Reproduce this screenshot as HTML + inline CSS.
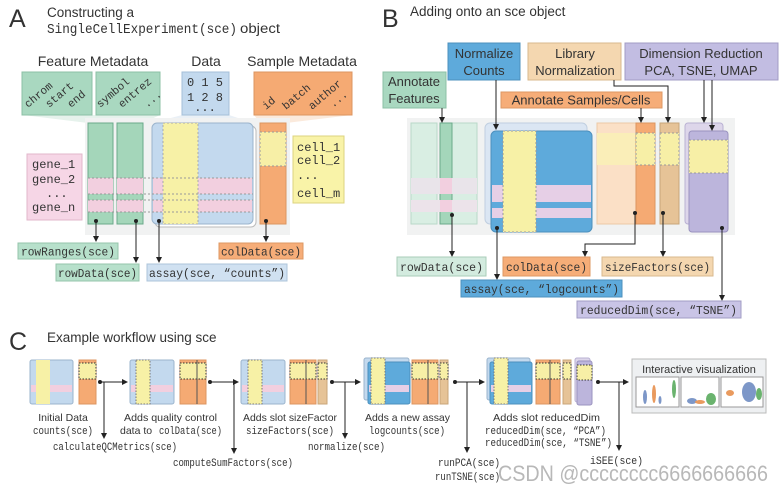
<!DOCTYPE html>
<html><head><meta charset="utf-8"><style>
html,body{margin:0;padding:0;background:#fff;}
svg{display:block;}
.s{font-family:"Liberation Sans",sans-serif;fill:#333;}
.m{font-family:"Liberation Mono",monospace;fill:#333;}
</style></head><body>
<svg width="783" height="491" viewBox="0 0 783 491" xmlns="http://www.w3.org/2000/svg">
<defs>
<marker id="ah" markerWidth="6" markerHeight="6" refX="5" refY="3" orient="auto" markerUnits="userSpaceOnUse"><path d="M0,0 L6,3 L0,6 z" fill="#222"/></marker>
</defs>
<g stroke="none">
<!-- ===== Panel A ===== -->
<text x="9" y="27" class="s" font-size="25" fill="#111">A</text>
<text x="47" y="17" class="s" font-size="13.5">Constructing a</text>
<text x="47" y="33" class="m" font-size="13.5" textLength="190" lengthAdjust="spacingAndGlyphs">SingleCellExperiment(sce)</text>
<text x="240" y="33" class="s" font-size="13.5" textLength="40" lengthAdjust="spacingAndGlyphs">object</text>

<text x="93" y="66" class="s" font-size="14" text-anchor="middle">Feature Metadata</text>
<text x="206" y="66" class="s" font-size="14" text-anchor="middle">Data</text>
<text x="302" y="66" class="s" font-size="14" text-anchor="middle">Sample Metadata</text>

<polygon points="23,115 160,115 143,123 88,123" fill="#e6f2ec"/>
<polygon points="182,115 229,115 253,123 152,123" fill="#eaf0f6"/>
<polygon points="254,115 352,115 286,123 260,123" fill="#fbeadc"/>

<rect x="22" y="72" width="70" height="43" fill="#a9d8c0" stroke="#8cc0a6"/>
<rect x="96" y="72" width="64" height="43" fill="#a9d8c0" stroke="#8cc0a6"/>
<g class="m" font-size="11">
<text transform="translate(28,108) rotate(-40)">chrom</text>
<text transform="translate(49,108) rotate(-40)">start</text>
<text transform="translate(71,108) rotate(-40)">end</text>
<text transform="translate(100,108) rotate(-40)">symbol</text>
<text transform="translate(122,108) rotate(-40)">entrez</text>
<text transform="translate(147,108) rotate(-40)">...</text>
</g>
<rect x="182" y="72" width="47" height="43" fill="#c3d9ee" stroke="#a4bfd8"/>
<text x="205" y="86" class="m" font-size="12" text-anchor="middle">0 1 5</text>
<text x="205" y="101" class="m" font-size="12" text-anchor="middle">1 2 8</text>
<text x="205" y="111" class="m" font-size="12" text-anchor="middle">...</text>
<rect x="254" y="72" width="98" height="43" fill="#f5aa73" stroke="#dc9560"/>
<g class="m" font-size="11">
<text transform="translate(266,110) rotate(-40)">id</text>
<text transform="translate(286,110) rotate(-40)">batch</text>
<text transform="translate(312,110) rotate(-40)">author</text>
<text transform="translate(333,108) rotate(-40)">...</text>
</g>

<rect x="85" y="118" width="205" height="117" fill="#f1f2f2"/>
<rect x="88" y="123" width="25" height="101" fill="#a4d6ba" stroke="#6aa98a"/>
<rect x="117" y="123" width="26" height="101" fill="#a4d6ba" stroke="#6aa98a"/>
<rect x="155" y="126" width="101" height="101" rx="5" fill="#fff" stroke="#bbb"/>
<rect x="152" y="123" width="101" height="101" rx="5" fill="#c3d9ee" stroke="#9bb4cc"/>
<rect x="88" y="178" width="25" height="16" fill="#f2cfdf"/>
<rect x="117" y="178" width="26" height="16" fill="#f2cfdf"/>
<rect x="153" y="178" width="99" height="16" fill="#f2cfdf"/>
<rect x="88" y="200" width="25" height="12" fill="#f2cfdf"/>
<rect x="117" y="200" width="26" height="12" fill="#f2cfdf"/>
<rect x="153" y="200" width="99" height="12" fill="#f2cfdf"/>
<rect x="163" y="123" width="35" height="101" fill="#f7f1a6" stroke="#aaa" stroke-dasharray="2,2"/>
<g stroke="#999" stroke-dasharray="2,2" fill="none">
<line x1="88" y1="178" x2="253" y2="178"/><line x1="88" y1="194" x2="253" y2="194"/>
<line x1="88" y1="200" x2="253" y2="200"/><line x1="88" y1="212" x2="253" y2="212"/>
</g>
<rect x="260" y="123" width="26" height="101" fill="#f5aa73" stroke="#dc9560"/>
<rect x="260" y="132" width="26" height="34" fill="#f7efa6" stroke="#999" stroke-dasharray="2,2"/>

<rect x="27" y="154" width="55" height="66" fill="#f6d6e6" stroke="#e1b7cb"/>
<g class="m" font-size="12"><text x="32" y="168">gene_1</text><text x="32" y="183">gene_2</text><text x="46" y="197">...</text><text x="32" y="211">gene_n</text></g>
<rect x="293" y="136" width="51" height="67" fill="#f9f3a8" stroke="#dcd37f"/>
<g class="m" font-size="12"><text x="297" y="151">cell_1</text><text x="297" y="164">cell_2</text><text x="297" y="179">...</text><text x="297" y="197">cell_m</text></g>

<g stroke="#222" stroke-width="1" fill="none">
<line x1="96" y1="221" x2="96" y2="241" marker-end="url(#ah)"/>
<line x1="136" y1="221" x2="136" y2="262" marker-end="url(#ah)"/>
<line x1="159" y1="221" x2="159" y2="262" marker-end="url(#ah)"/>
<line x1="266" y1="221" x2="266" y2="241" marker-end="url(#ah)"/>
</g>
<g fill="#222"><circle cx="96" cy="221" r="2"/><circle cx="136" cy="221" r="2"/><circle cx="159" cy="221" r="2"/><circle cx="266" cy="221" r="2"/></g>

<rect x="18" y="243" width="100" height="16" fill="#b7e0cb" stroke="#95c4ab"/>
<text x="21" y="255.5" class="m" font-size="12" textLength="94" lengthAdjust="spacingAndGlyphs">rowRanges(sce)</text>
<rect x="56" y="264" width="83" height="17" fill="#b7e0cb" stroke="#95c4ab"/>
<text x="58" y="277" class="m" font-size="12" textLength="79" lengthAdjust="spacingAndGlyphs">rowData(sce)</text>
<rect x="147" y="264" width="140" height="17" fill="#d0e1f1" stroke="#adc4da"/>
<text x="149" y="277" class="m" font-size="12" textLength="136" lengthAdjust="spacingAndGlyphs">assay(sce, “counts”)</text>
<rect x="219" y="243" width="84" height="16" fill="#f6ad78" stroke="#de9863"/>
<text x="221" y="255.5" class="m" font-size="12" textLength="80" lengthAdjust="spacingAndGlyphs">colData(sce)</text>

<!-- ===== Panel B ===== -->
<text x="382" y="27" class="s" font-size="25" fill="#111">B</text>
<text x="410" y="16" class="s" font-size="13.5">Adding onto an sce object</text>

<rect x="448" y="43" width="72" height="37" fill="#5eaadb" stroke="#4c90be"/>
<text x="484" y="58" class="s" font-size="13" text-anchor="middle">Normalize</text>
<text x="484" y="75" class="s" font-size="13" text-anchor="middle">Counts</text>
<rect x="528" y="43" width="93" height="37" fill="#f4d7b0" stroke="#d9b98e"/>
<text x="575" y="58" class="s" font-size="13" text-anchor="middle">Library</text>
<text x="575" y="75" class="s" font-size="13" text-anchor="middle">Normalization</text>
<rect x="625" y="43" width="153" height="37" fill="#c2bde2" stroke="#a19cc4"/>
<text x="701" y="58" class="s" font-size="13" text-anchor="middle">Dimension Reduction</text>
<text x="701" y="75" class="s" font-size="13" text-anchor="middle">PCA, TSNE, UMAP</text>
<rect x="383" y="72" width="63" height="36" fill="#a9d8c0" stroke="#8cc0a6"/>
<text x="414" y="86" class="s" font-size="13" text-anchor="middle">Annotate</text>
<text x="414" y="103" class="s" font-size="13" text-anchor="middle">Features</text>
<rect x="501" y="92" width="161" height="16" fill="#f6ad78" stroke="#de9863"/>
<text x="581" y="104.5" class="s" font-size="13" text-anchor="middle">Annotate Samples/Cells</text>

<rect x="407" y="118" width="328" height="117" fill="#f1f2f2"/>
<rect x="411" y="123" width="26" height="101" fill="#d9eee3" stroke="#b9d8c8"/>
<rect x="452" y="123" width="25" height="101" fill="#d9eee3" stroke="#b9d8c8"/>
<rect x="440" y="123" width="12" height="101" fill="#a4d6ba" stroke="#6aa98a"/>
<rect x="411" y="178" width="66" height="16" fill="#e9e4ea"/>
<rect x="440" y="178" width="12" height="16" fill="#f2cfdf"/>
<rect x="411" y="200" width="66" height="12" fill="#ece3ea"/>
<rect x="440" y="200" width="12" height="12" fill="#f2cfdf"/>
<rect x="485" y="123" width="102" height="101" rx="5" fill="#dbe6f3" stroke="#c0cfe0"/>
<rect x="491" y="131" width="101" height="101" rx="5" fill="#5eaadb" stroke="#4c90be"/>
<rect x="492" y="185" width="99" height="17" fill="#e6cfe6"/>
<rect x="492" y="208" width="99" height="10" fill="#e6cfe6"/>
<rect x="503" y="131" width="33" height="101" fill="#f7f1a6" stroke="#999" stroke-dasharray="2,2"/>
<rect x="597" y="123" width="39" height="101" fill="#fbe0c6" stroke="#ecc9a5"/>
<rect x="597" y="133" width="39" height="32" fill="#faeeb8"/>
<rect x="636" y="123" width="19" height="101" fill="#f5aa73" stroke="#dc9560"/>
<rect x="636" y="133" width="19" height="32" fill="#f7efa6" stroke="#999" stroke-dasharray="2,2"/>
<rect x="660" y="123" width="19" height="101" fill="#e6c397" stroke="#c8a67a"/>
<rect x="660" y="133" width="19" height="32" fill="#f7efa6" stroke="#999" stroke-dasharray="2,2"/>
<rect x="685" y="123" width="38" height="101" rx="3" fill="#ddd6ea" stroke="#b9b1d3"/>
<rect x="689" y="131" width="39" height="101" rx="3" fill="#bcb5dc" stroke="#9a93bf"/>
<rect x="689" y="140" width="39" height="33" fill="#f7efa6" stroke="#999" stroke-dasharray="2,2"/>

<g stroke="#222" stroke-width="1" fill="none">
<line x1="442" y1="108" x2="442" y2="122" marker-end="url(#ah)"/>
<line x1="496" y1="80" x2="496" y2="129" marker-end="url(#ah)"/>
<polyline points="614,80 614,86 668,86 668,122" marker-end="url(#ah)"/>
<line x1="641" y1="108" x2="641" y2="122" marker-end="url(#ah)"/>
<line x1="704" y1="80" x2="704" y2="122" marker-end="url(#ah)"/>
<line x1="712" y1="80" x2="712" y2="130" marker-end="url(#ah)"/>
<line x1="452" y1="215" x2="452" y2="256" marker-end="url(#ah)"/>
<line x1="497" y1="228" x2="497" y2="279" marker-end="url(#ah)"/>
<polyline points="635,213 635,244 585,244 585,256" marker-end="url(#ah)"/>
<line x1="663" y1="213" x2="663" y2="256" marker-end="url(#ah)"/>
<line x1="722" y1="228" x2="722" y2="300" marker-end="url(#ah)"/>
</g>
<g fill="#222"><circle cx="452" cy="215" r="2"/><circle cx="497" cy="228" r="2"/><circle cx="635" cy="213" r="2"/><circle cx="663" cy="213" r="2"/><circle cx="722" cy="228" r="2"/></g>

<rect x="397" y="257" width="89" height="19" fill="#d3ebdf" stroke="#a9cdb9"/>
<text x="400" y="271" class="m" font-size="12" textLength="83" lengthAdjust="spacingAndGlyphs">rowData(sce)</text>
<rect x="503" y="257" width="87" height="19" fill="#f6ad78" stroke="#de9863"/>
<text x="506" y="271" class="m" font-size="12" textLength="81" lengthAdjust="spacingAndGlyphs">colData(sce)</text>
<rect x="602" y="257" width="111" height="19" fill="#f4d7b0" stroke="#d9b98e"/>
<text x="605" y="271" class="m" font-size="12" textLength="105" lengthAdjust="spacingAndGlyphs">sizeFactors(sce)</text>
<rect x="461" y="280" width="161" height="17" fill="#5eaadb" stroke="#4c90be"/>
<text x="464" y="293" class="m" font-size="12" textLength="155" lengthAdjust="spacingAndGlyphs">assay(sce, “logcounts”)</text>
<rect x="577" y="301" width="164" height="17" fill="#c9c4e6" stroke="#a19cc4"/>
<text x="580" y="314" class="m" font-size="12" textLength="157" lengthAdjust="spacingAndGlyphs">reducedDim(sce, “TSNE”)</text>

<!-- ===== Panel C ===== -->
<text x="9" y="350" class="s" font-size="25" fill="#111">C</text>
<text x="47" y="342" class="s" font-size="13.5">Example workflow using sce</text>

<rect x="30" y="360" width="43" height="44" rx="2" fill="#c3d9ee" stroke="#9bb4cc"/>
<rect x="31" y="385" width="41" height="7" fill="#f2cfdf"/>
<rect x="36" y="360" width="14" height="44" fill="#f7f1a6"/>
<rect x="79" y="360" width="17" height="44" fill="#f5aa73" stroke="#dc9560"/>
<rect x="79" y="363" width="17" height="16" fill="#f7efa6" stroke="#333" stroke-dasharray="1.5,1.5"/>
<rect x="130" y="360" width="44" height="44" rx="2" fill="#c3d9ee" stroke="#9bb4cc"/>
<rect x="131" y="385" width="42" height="7" fill="#f2cfdf"/>
<rect x="136" y="360" width="14" height="44" fill="#f7f1a6" stroke="#777" stroke-dasharray="1.5,1.5"/>
<rect x="180" y="360" width="26" height="44" fill="#f5aa73" stroke="#dc9560"/>
<rect x="180" y="363" width="26" height="16" fill="#f7efa6" stroke="#333" stroke-dasharray="1.5,1.5"/>
<line x1="197" y1="360" x2="197" y2="404" stroke="#555"/>
<rect x="241" y="360" width="44" height="44" rx="2" fill="#c3d9ee" stroke="#9bb4cc"/>
<rect x="242" y="385" width="42" height="7" fill="#f2cfdf"/>
<rect x="248" y="360" width="14" height="44" fill="#f7f1a6" stroke="#777" stroke-dasharray="1.5,1.5"/>
<rect x="290" y="360" width="26" height="44" fill="#f5aa73" stroke="#dc9560"/>
<rect x="290" y="363" width="26" height="16" fill="#f7efa6" stroke="#333" stroke-dasharray="1.5,1.5"/>
<line x1="306" y1="360" x2="306" y2="404" stroke="#555"/>
<rect x="318" y="360" width="9" height="44" fill="#e6c397" stroke="#c8a67a"/>
<rect x="318" y="363" width="9" height="16" fill="#f7efa6" stroke="#333" stroke-dasharray="1.5,1.5"/>
<rect x="364" y="358" width="45" height="42" rx="2" fill="#c3d9ee" stroke="#9bb4cc"/>
<rect x="368" y="362" width="42" height="42" rx="2" fill="#5eaadb" stroke="#4c90be"/>
<rect x="369" y="385" width="40" height="7" fill="#e6cfe6"/>
<rect x="371" y="358" width="14" height="46" fill="#f7f1a6" stroke="#777" stroke-dasharray="1.5,1.5"/>
<rect x="412" y="360" width="26" height="44" fill="#f5aa73" stroke="#dc9560"/>
<rect x="412" y="363" width="26" height="16" fill="#f7efa6" stroke="#333" stroke-dasharray="1.5,1.5"/>
<line x1="428" y1="360" x2="428" y2="404" stroke="#555"/>
<rect x="440" y="360" width="8" height="44" fill="#e6c397" stroke="#c8a67a"/>
<rect x="440" y="363" width="8" height="16" fill="#f7efa6" stroke="#333" stroke-dasharray="1.5,1.5"/>
<rect x="487" y="358" width="43" height="42" rx="2" fill="#c3d9ee" stroke="#9bb4cc"/>
<rect x="490" y="362" width="42" height="42" rx="2" fill="#5eaadb" stroke="#4c90be"/>
<rect x="491" y="385" width="40" height="7" fill="#e6cfe6"/>
<rect x="494" y="358" width="14" height="46" fill="#f7f1a6" stroke="#777" stroke-dasharray="1.5,1.5"/>
<rect x="536" y="360" width="24" height="44" fill="#f5aa73" stroke="#dc9560"/>
<rect x="536" y="363" width="24" height="16" fill="#f7efa6" stroke="#333" stroke-dasharray="1.5,1.5"/>
<line x1="550" y1="360" x2="550" y2="404" stroke="#555"/>
<rect x="563" y="360" width="8" height="44" fill="#e6c397" stroke="#c8a67a"/>
<rect x="563" y="363" width="8" height="16" fill="#f7efa6" stroke="#333" stroke-dasharray="1.5,1.5"/>
<rect x="575" y="358" width="15" height="44" rx="2" fill="#ddd6ea" stroke="#b9b1d3"/>
<rect x="577" y="361" width="15" height="44" rx="2" fill="#bcb5dc" stroke="#9a93bf"/>
<rect x="577" y="365" width="15" height="15" fill="#f7efa6" stroke="#333" stroke-dasharray="1.5,1.5"/>

<g stroke="#222" stroke-width="1" fill="none">
<line x1="100" y1="382" x2="127" y2="382" marker-end="url(#ah)"/>
<line x1="104" y1="382" x2="104" y2="438" marker-end="url(#ah)"/>
<line x1="210" y1="382" x2="238" y2="382" marker-end="url(#ah)"/>
<line x1="234" y1="382" x2="234" y2="453" marker-end="url(#ah)"/>
<line x1="332" y1="382" x2="360" y2="382" marker-end="url(#ah)"/>
<line x1="345" y1="382" x2="345" y2="438" marker-end="url(#ah)"/>
<line x1="455" y1="382" x2="484" y2="382" marker-end="url(#ah)"/>
<line x1="467" y1="382" x2="467" y2="452" marker-end="url(#ah)"/>
<line x1="598" y1="382" x2="628" y2="382" marker-end="url(#ah)"/>
<line x1="619" y1="382" x2="619" y2="450" marker-end="url(#ah)"/>
</g>
<g fill="#222"><circle cx="100" cy="382" r="2"/><circle cx="210" cy="382" r="2"/><circle cx="332" cy="382" r="2"/><circle cx="455" cy="382" r="2"/><circle cx="598" cy="382" r="2"/></g>

<g font-size="11">
<text x="63" y="421" class="s" font-size="10.5" text-anchor="middle">Initial Data</text>
<text x="33" y="434" class="m" textLength="60" lengthAdjust="spacingAndGlyphs">counts(sce)</text>
<text x="124" y="421" class="s" font-size="10.5" textLength="93" lengthAdjust="spacingAndGlyphs">Adds quality control</text>
<text x="120" y="434" class="s" font-size="10.5">data to</text>
<text x="159" y="434" class="m" textLength="63" lengthAdjust="spacingAndGlyphs">colData(sce)</text>
<text x="243" y="421" class="s" font-size="10.5" textLength="94" lengthAdjust="spacingAndGlyphs">Adds slot sizeFactor</text>
<text x="246" y="434" class="m" textLength="88" lengthAdjust="spacingAndGlyphs">sizeFactors(sce)</text>
<text x="365" y="421" class="s" font-size="10.5" textLength="85" lengthAdjust="spacingAndGlyphs">Adds a new assay</text>
<text x="369" y="434" class="m" textLength="76" lengthAdjust="spacingAndGlyphs">logcounts(sce)</text>
<text x="493" y="421" class="s" font-size="10.5" textLength="107" lengthAdjust="spacingAndGlyphs">Adds slot reducedDim</text>
<text x="485" y="434" class="m" textLength="121" lengthAdjust="spacingAndGlyphs">reducedDim(sce, “PCA”)</text>
<text x="485" y="446" class="m" textLength="127" lengthAdjust="spacingAndGlyphs">reducedDim(sce, “TSNE”)</text>
<text x="53" y="450" class="m" textLength="124" lengthAdjust="spacingAndGlyphs">calculateQCMetrics(sce)</text>
<text x="173" y="466" class="m" textLength="120" lengthAdjust="spacingAndGlyphs">computeSumFactors(sce)</text>
<text x="308" y="450" class="m" textLength="77" lengthAdjust="spacingAndGlyphs">normalize(sce)</text>
<text x="438" y="466" class="m" textLength="62" lengthAdjust="spacingAndGlyphs">runPCA(sce)</text>
<text x="435" y="480" class="m" textLength="65" lengthAdjust="spacingAndGlyphs">runTSNE(sce)</text>
<text x="590" y="464" class="m" textLength="53" lengthAdjust="spacingAndGlyphs">iSEE(sce)</text>
</g>

<rect x="632" y="359" width="134" height="54" fill="#eef0f2" stroke="#bbb"/>
<text x="699" y="373" class="s" font-size="11" text-anchor="middle">Interactive visualization</text>
<rect x="636" y="377" width="43" height="30" fill="#fff" stroke="#999"/>
<rect x="681" y="377" width="38" height="30" fill="#fff" stroke="#999"/>
<rect x="721" y="377" width="42" height="30" fill="#fff" stroke="#999"/>
<g fill="#7d97c8"><ellipse cx="645" cy="397" rx="2" ry="7"/><ellipse cx="660" cy="400" rx="1.5" ry="4"/><ellipse cx="692" cy="401" rx="5" ry="3"/><ellipse cx="749" cy="392" rx="7" ry="10"/></g>
<g fill="#e99a5e"><ellipse cx="654" cy="394" rx="2" ry="9"/><ellipse cx="700" cy="402" rx="5" ry="2"/><ellipse cx="730" cy="393" rx="4" ry="3"/></g>
<g fill="#6ab36e"><ellipse cx="674" cy="389" rx="2" ry="9"/><ellipse cx="711" cy="399" rx="5" ry="6"/><ellipse cx="759" cy="394" rx="3" ry="6"/></g>

<text x="498" y="481" class="s" font-size="22" style="fill:#b8b8b8" textLength="270" lengthAdjust="spacingAndGlyphs">CSDN @cccccccc6666666666</text>
</g>
</svg>
</body></html>
